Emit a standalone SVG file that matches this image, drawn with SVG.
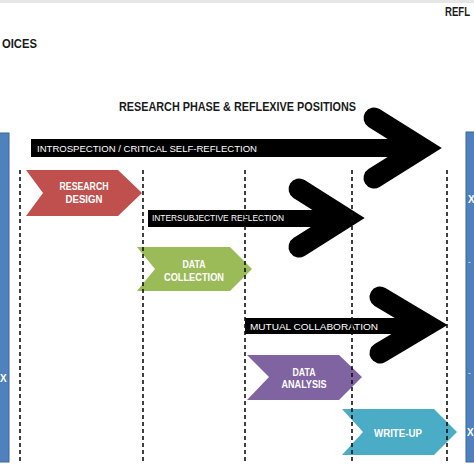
<svg xmlns="http://www.w3.org/2000/svg" width="474" height="474" viewBox="0 0 474 474">
  <style>
    .hdr{font-family:"Liberation Sans",Arial,sans-serif;font-weight:bold;fill:#1a1a1a}
    .bartxt{font-family:"Liberation Sans",Arial,sans-serif;fill:#ffffff}
    .chtxt{font-family:"Liberation Sans",Arial,sans-serif;font-weight:bold;fill:#ffffff;text-anchor:middle}
    .head{fill:none;stroke:#000;stroke-width:21;stroke-linecap:round;stroke-linejoin:miter;stroke-miterlimit:6}
    .phase{stroke:#111;stroke-width:1.6;stroke-dasharray:4 3;fill:none}
    .side{fill:#4f81bd;stroke:#3a669a;stroke-width:1}
  </style>
  <rect x="0" y="0" width="474" height="474" fill="#ffffff"/>
  <rect x="0" y="0" width="474" height="3" fill="#e6e6e6"/>

  <text class="hdr" x="445" y="16" font-size="12" textLength="25" lengthAdjust="spacingAndGlyphs">REFL</text>
  <text class="hdr" x="2" y="48" font-size="12.5" textLength="35" lengthAdjust="spacingAndGlyphs">OICES</text>
  <text class="hdr" x="119" y="111" font-size="12.5" textLength="237" lengthAdjust="spacingAndGlyphs">RESEARCH PHASE &amp; REFLEXIVE POSITIONS</text>

  <g id="left-bar">
    <rect class="side" x="-2" y="133" width="11" height="329"/>
    <text class="bartxt" x="0" y="382" font-size="10" font-weight="bold">X</text>
  </g>
  <g id="right-bar">
    <rect class="side" x="466" y="132" width="10" height="330"/>
    <text class="bartxt" x="468" y="203" font-size="10" font-weight="bold">X</text>
    <text class="bartxt" x="468" y="264" font-size="8">-</text>
    <text class="bartxt" x="468" y="375" font-size="8">-</text>
    <text class="bartxt" x="467" y="436" font-size="10" font-weight="bold">X</text>
  </g>

  <g id="introspection">
    <rect x="31" y="139" width="394" height="18" fill="#000"/>
    <polyline class="head" points="374,118 422,148 374,178"/>
    <text class="bartxt" x="37" y="152" font-size="9.5" textLength="220" lengthAdjust="spacingAndGlyphs">INTROSPECTION  / CRITICAL SELF-REFLECTION</text>
  </g>
  <g id="intersubjective">
    <rect x="148" y="210" width="200" height="17" fill="#000"/>
    <polyline class="head" points="299,189 345,218 299,247"/>
    <text class="bartxt" x="152" y="221" font-size="8.5" textLength="132" lengthAdjust="spacingAndGlyphs">INTERSUBJECTIVE REFLECTION</text>
  </g>
  <g id="mutual">
    <rect x="245" y="318" width="185" height="16" fill="#000"/>
    <polyline class="head" points="380,297 427,325 380,353"/>
    <text class="bartxt" x="250" y="330" font-size="9.5" textLength="128" lengthAdjust="spacingAndGlyphs">MUTUAL COLLABORATION</text>
  </g>

  <g id="research-design">
    <polygon points="26,170 118,170 142,193 118,216 26,216 43,193" fill="#c0504d"/>
    <text class="chtxt" x="84" y="190" font-size="10" textLength="49" lengthAdjust="spacingAndGlyphs">RESEARCH</text>
    <text class="chtxt" x="84" y="203" font-size="10" textLength="37" lengthAdjust="spacingAndGlyphs">DESIGN</text>
  </g>
  <g id="data-collection">
    <polygon points="137,247 230,247 252,269 230,291 137,291 155,269" fill="#9bbb59"/>
    <text class="chtxt" x="194" y="268" font-size="10" textLength="23" lengthAdjust="spacingAndGlyphs">DATA</text>
    <text class="chtxt" x="194" y="281" font-size="10" textLength="60" lengthAdjust="spacingAndGlyphs">COLLECTION</text>
  </g>
  <g id="data-analysis">
    <polygon points="247,355 339,355 362,377 339,400 247,400 269,377" fill="#8064a2"/>
    <text class="chtxt" x="304" y="376" font-size="10" textLength="23" lengthAdjust="spacingAndGlyphs">DATA</text>
    <text class="chtxt" x="304" y="388" font-size="10" textLength="45" lengthAdjust="spacingAndGlyphs">ANALYSIS</text>
  </g>
  <g id="write-up">
    <polygon points="342,409 434,409 457,432 434,455 342,455 363,432" fill="#4bacc6"/>
    <text class="chtxt" x="398" y="437" font-size="10.5" textLength="48" lengthAdjust="spacingAndGlyphs">WRITE-UP</text>
  </g>

  <g id="connectors">
    <line class="phase" x1="20" y1="170" x2="20" y2="461"/>
    <line class="phase" x1="143" y1="170" x2="143" y2="461"/>
    <line class="phase" x1="245" y1="170" x2="245" y2="461"/>
    <line class="phase" x1="352" y1="170" x2="352" y2="461"/>
    <line class="phase" x1="447" y1="170" x2="447" y2="461"/>
  </g>
</svg>
